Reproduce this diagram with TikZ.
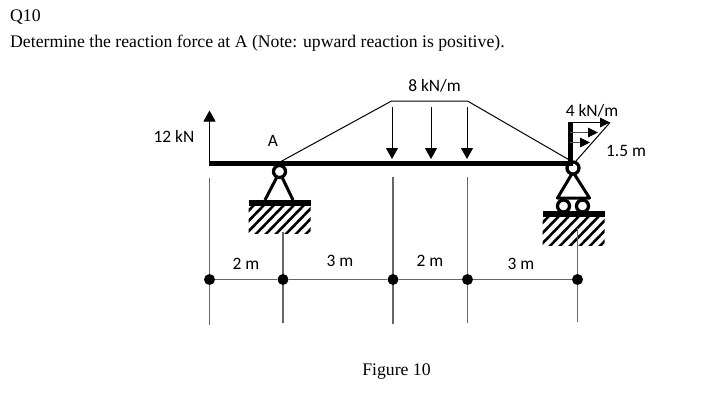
\documentclass[tikz,border=0pt]{standalone}
\usepackage{fontspec}
\setmainfont{Liberation Serif}
\newfontfamily\labelfont{Carlito}
\usetikzlibrary{arrows.meta}
\usetikzlibrary{positioning}
\tikzset{
  lbl/.style={inner sep=0pt,font=\labelfont\fontsize{17.4}{19}\selectfont},
  txt/.style={inner sep=0pt,anchor=base west,font=\fontsize{17.7}{20}\selectfont},
  load/.style={line width=1pt,-{Triangle[length=11pt,width=12pt,color=black]}},
  sideload/.style={line width=1pt,-{Triangle[length=10pt,width=9.5pt,color=black]}},
  gridline/.style={line width=1.1pt,black!60},
  joint/.style={circle,fill=black,inner sep=0pt,minimum size=11pt},
  pin/.style={circle,draw=black,fill=white,line width=3.3pt,inner sep=0pt,minimum size=12pt},
}
\begin{document}
\begin{tikzpicture}[x=1pt,y=-1pt]
    \useasboundingbox (0,0) rectangle (711,413);
    
    \node[txt] (title) at (10,21) {Q10};
    \node[txt] (question) at (10,47) {Determine the reaction force at A (Note: upward reaction is positive).};
    \node[txt,anchor=center] (figlabel) at (396.5,372) {Figure 10};
    
    % hatching
    \begin{scope}
        \clip (248.5,205) rectangle (310.5,233.5);
        \foreach \x in {214,224,...,314}
            \draw[line width=2.6pt] (\x,236) -- (\x+32,203);
    \end{scope}
    \begin{scope}
        \clip (542.5,216) rectangle (604.5,245);
        \foreach \x in {508,518,...,608}
            \draw[line width=2.6pt] (\x,248) -- (\x+32,215);
    \end{scope}
    \fill (248.5,200) rectangle (310.5,206);
    \fill (542.5,211) rectangle (604.5,217);
    
    % dimension lines
    \draw[gridline] (209.5,178) -- (209.5,325);
    \draw[gridline] (283,232) -- (283,323);
    \draw[gridline] (393,177) -- (393,324);
    \draw[gridline] (467.5,177) -- (467.5,323);
    \draw[gridline] (577.5,228) -- (577.5,322);
    \node[joint] (d1) at (209.5,279.5) {};
    \node[joint] (d2) at (283,279.5) {};
    \node[joint] (d3) at (393,279.5) {};
    \node[joint] (d4) at (467.5,279.5) {};
    \node[joint] (d5) at (577.5,279.5) {};
    \draw[gridline] (d1) -- (d2);
    \draw[gridline] (d2) -- (d3);
    \draw[gridline] (d3) -- (d4);
    \draw[gridline] (d4) -- (d5);
    
    % supports
    \draw[line width=3pt] (265,200) -- (279.5,172) -- (293,200);
    \node[pin] (pinA) at (279.5,171.5) {};
    \draw[line width=3pt,line join=round] (573,172) -- (557.5,198) -- (589.5,198) -- cycle;
    \node[pin] (pinB) at (573,168) {};
    \node[pin] (rollerl) at (563.5,206) {};
    \node[pin] (rollerr) at (582.5,206) {};
    
    % beam
    \draw[line width=5pt] (209,163.5) -- (573,163.5);
    \draw[line width=4.5pt] (570.5,163) -- (570.5,122);
    
    % loads
    \draw[load] (209.5,162) -- (209.5,110.5);
    \draw[line width=1pt] (280,162) -- (391.5,101) -- (467.5,101) -- (572,161.5);
    \draw[load] (392,107) -- (392,159);
    \draw[load] (431,107) -- (431,159);
    \draw[load] (467,107) -- (467,159);
    \draw[line width=1pt] (576,161) -- (610,122.5);
    \draw[sideload] (570,122.5) -- (610,122.5);
    \draw[sideload,black!70] (570,132.5) -- (598,132.5);
    \draw[sideload,black!70] (570,142.5) -- (590,142.5);
    
    % labels
    \node[lbl] (force) at (174,136) {12 kN};
    \node[lbl] (labelA) at (273,141) {A};
    \node[lbl] (udl) at (434.5,85.5) {8 kN/m};
    \node[lbl] (tri) at (592,110.5) {4 kN/m};
    \node[lbl] (height) at (626,151) {1.5 m};
    \node[lbl] (span1) at (246,263.5) {2 m};
    \node[lbl] (span2) at (340,260.5) {3 m};
    \node[lbl] (span3) at (430,260.5) {2 m};
    \node[lbl] (span4) at (521,263.5) {3 m};
\end{tikzpicture}
\end{document}
